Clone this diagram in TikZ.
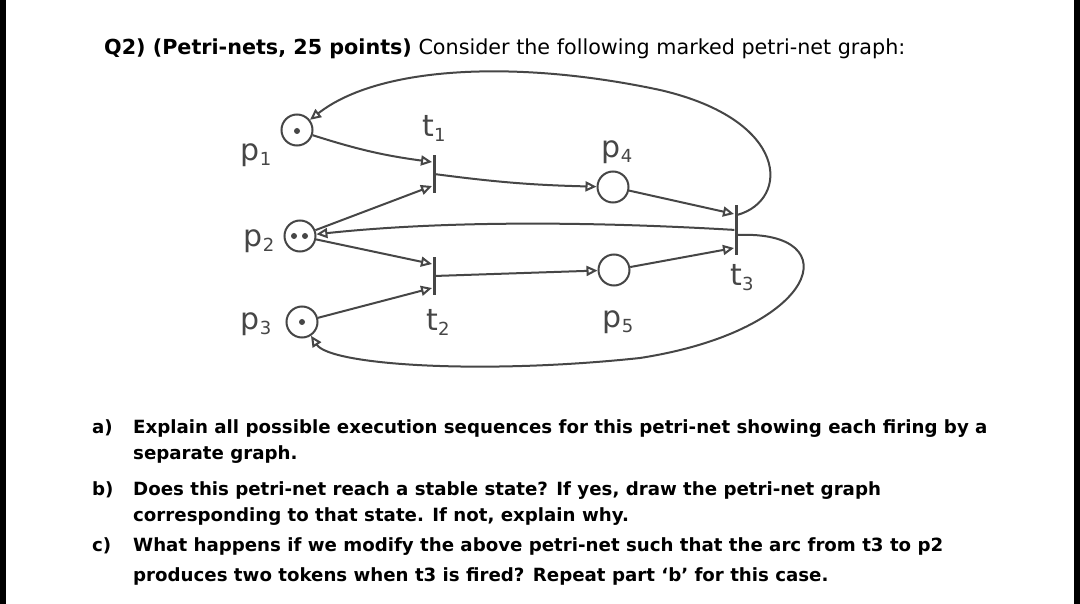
\documentclass[tikz,border=0pt]{standalone}
\usepackage{fontspec}
\setmainfont{DejaVu Sans}
\usetikzlibrary{arrows.meta}
\definecolor{ink}{RGB}{70,70,70}
\newcommand{\hlab}[2]{{\fontsize{30}{30}\selectfont #1\raisebox{-5pt}{\fontsize{18}{18}\selectfont #2}}}
\begin{document}
\begin{tikzpicture}[x=1pt,y=-1pt,
  place/.style={draw=ink,line width=2pt,circle,minimum size=31pt,inner sep=0pt},
  trans/.style={fill=ink,minimum width=3pt,inner sep=0pt},
  arc/.style={draw=ink,line width=2pt,-{Triangle[length=11pt,width=10pt,open]}},
  tok/.style={fill=ink,circle,inner sep=0pt,minimum size=6pt},
  hand/.style={text=ink,inner sep=0pt},
  txt/.style={font=\fontsize{18.2}{19}\selectfont\bfseries,anchor=base west,inner sep=0pt},
  head/.style={font=\fontsize{20.7}{21}\selectfont,anchor=base west,inner sep=0pt}]
\useasboundingbox[fill=white] (0,0) rectangle (1080,604);
\fill[black] (0,0) rectangle (6,604);
\fill[black] (1074,0) rectangle (1080,604);
\node[head] (q) at (104,55) {\textbf{Q2) (Petri-nets, 25 points)} Consider the following marked petri-net graph:};
% places
\node[place] (p1) at (297,130) {};
\node[place] (p2) at (300,236) {};
\node[place] (p3) at (302,322) {};
\node[place] (p4) at (613,187) {};
\node[place] (p5) at (614,270) {};
\node[tok] (k1) at (297,131) {};
\node[tok] (k2) at (294,236) {};
\node[tok] (k3) at (305,236) {};
\node[tok] (k4) at (302,322) {};
% transitions
\node[trans,minimum height=38pt] (t1) at (434,174) {};
\node[trans,minimum height=38pt] (t2) at (434,276) {};
\node[trans,minimum height=50pt] (t3) at (736,230) {};
% labels
\node[hand] (l1) at (256,155) {\hlab{p}{1}};
\node[hand] (l2) at (259,241) {\hlab{p}{2}};
\node[hand] (l3) at (256,324) {\hlab{p}{3}};
\node[hand] (l4) at (617,152) {\hlab{p}{4}};
\node[hand] (l5) at (618,322) {\hlab{p}{5}};
\node[hand] (lt1) at (434,128) {\hlab{t}{1}};
\node[hand] (lt2) at (438,322) {\hlab{t}{2}};
\node[hand] (lt3) at (742,278) {\hlab{t}{3}};
% arcs
\coordinate (t1a) at (432,162); \coordinate (t1b) at (432,186);
\coordinate (t2a) at (432,264); \coordinate (t2b) at (432,288);
\coordinate (t3a) at (734,214); \coordinate (t3b) at (734,248);
\draw[arc] (p1) to[bend left=-5] (t1a);
\draw[arc] (p2) -- (t1b);
\draw[arc] (p2) -- (t2a);
\draw[arc] (p3) -- (t2b);
\draw[arc] (t1) to[bend left=-3] (p4);
\draw[arc] (t2) -- (p5);
\draw[arc] (p4) -- (t3a);
\draw[arc] (p5) -- (t3b);
\draw[arc] (t3.north east) ++(0,10) coordinate (o1) .. controls (790,200) and (790,120) .. (660,90) .. controls (520,60) and (380,65) .. (p1);
\draw[arc] (t3) .. controls (600,222) and (450,220) .. (p2);
\draw[arc] (t3.east) ++(0,5) coordinate (o3) .. controls (850,230) and (820,330) .. (640,358) .. controls (480,375) and (330,365) .. (p3);
% questions
\node[txt] (a) at (92,433) {a)};
\node[txt] (at) at (133,433) {Explain all possible execution sequences for this petri-net showing each firing by a};
\node[txt] (at2) at (133,459) {separate graph.};
\node[txt] (b) at (92,495) {b)};
\node[txt] (bt) at (133,495) {Does this petri-net reach a stable state? If yes, draw the petri-net graph};
\node[txt] (bt2) at (133,521) {corresponding to that state. If not, explain why.};
\node[txt] (c) at (92,551) {c)};
\node[txt] (ct) at (133,551) {What happens if we modify the above petri-net such that the arc from t3 to p2};
\node[txt] (ct2) at (133,581) {produces two tokens when t3 is fired? Repeat part ‘b’ for this case.};
\end{tikzpicture}
\end{document}
